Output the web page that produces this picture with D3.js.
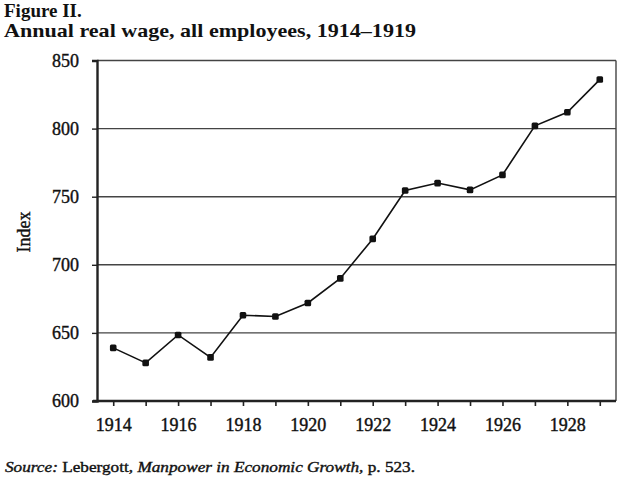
<!DOCTYPE html>
<html><head><meta charset="utf-8">
<script src="https://cdn.jsdelivr.net/npm/d3@7"></script>
<style>
html,body{margin:0;padding:0;background:#fff;}
svg{display:block;}
text{font-family:"Liberation Serif","DejaVu Serif",serif;fill:#111;}
.heavy{stroke:#111;stroke-width:0.4px;}
</style></head>
<body><svg id="chart" width="621" height="480"></svg>
<script>
const years = [1914,1915,1916,1917,1918,1919,1920,1921,1922,1923,1924,1925,1926,1927,1928,1929];
const wageIndex = [639,628,648.5,632,663,662,672,690,719,754.5,760,755,766,802,812,836];
const yTicks = [600,650,700,750,800,850];
const xLabelYears = [1914,1916,1918,1920,1922,1924,1926,1928];
const titleLines = ["Figure II.","Annual real wage, all employees, 1914\u20131919"];
const yLabel = "Index";

const svg = d3.select("#chart");
const m = {left:97, right:616, top:60.5, bottom:401};
const x = d3.scaleLinear().domain([1913.5,1929.5]).range([m.left,m.right]);
const y = d3.scaleLinear().domain([600,850]).range([m.bottom,m.top]);

// titles
svg.append("text").attr("x",4).attr("y",17).attr("font-size",19).attr("font-weight","bold").text(titleLines[0]);
svg.append("text").attr("x",4).attr("y",37).attr("font-size",19.5).attr("font-weight","bold")
  .attr("textLength",412).attr("lengthAdjust","spacingAndGlyphs").text(titleLines[1]);

// gridlines
svg.append("g").selectAll("line").data(yTicks.filter(d=>d>600)).join("line")
  .attr("x1",m.left).attr("x2",m.right).attr("y1",d=>y(d)).attr("y2",d=>y(d))
  .attr("stroke","#444").attr("stroke-width",1.4);

// right frame
svg.append("line").attr("x1",m.right).attr("x2",m.right).attr("y1",m.top).attr("y2",m.bottom)
  .attr("stroke","#444").attr("stroke-width",1.4);

// y axis
const yAxis = d3.axisLeft(y).tickValues(yTicks).tickSize(5).tickPadding(13).tickFormat(d3.format("d"));
const gy = svg.append("g").attr("transform",`translate(${m.left},0)`).call(yAxis);
gy.select(".domain").attr("stroke","#222").attr("stroke-width",2.4);
gy.selectAll(".tick line").attr("stroke","#222").attr("stroke-width",1.4);
gy.selectAll(".tick text").attr("font-size",18).attr("font-family","Liberation Serif, serif").attr("fill","#111").attr("class","heavy");

// x axis
const xAxis = d3.axisBottom(x).tickValues(years).tickSize(5).tickPadding(12)
  .tickFormat(d=>xLabelYears.includes(d)?String(d):"");
const gx = svg.append("g").attr("transform",`translate(0,${m.bottom})`).call(xAxis);
gx.select(".domain").attr("stroke","#222").attr("stroke-width",2.4).attr("d",`M${m.left-4},0H${m.right}`);
gx.selectAll(".tick line").attr("stroke","#222").attr("stroke-width",1.6);
gx.selectAll(".tick text").attr("font-size",18).attr("font-family","Liberation Serif, serif").attr("fill","#111").attr("class","heavy");

// y label
svg.append("text").attr("transform","translate(30,232) rotate(-90)").attr("text-anchor","middle")
  .attr("font-size",18).attr("class","heavy").text(yLabel);

// line
const data = years.map((yr,i)=>({yr,v:wageIndex[i]}));
svg.append("path").datum(data)
  .attr("d",d3.line().x(d=>x(d.yr)).y(d=>y(d.v)))
  .attr("fill","none").attr("stroke","#111").attr("stroke-width",1.6);
svg.append("g").selectAll("rect").data(data).join("rect")
  .attr("x",d=>x(d.yr)-3.3).attr("y",d=>y(d.v)-3.3).attr("width",6.6).attr("height",6.6)
  .attr("rx",1.5).attr("fill","#111");

// source
const src = svg.append("text").attr("x",5).attr("y",472).attr("font-size",15.5).attr("class","heavy")
  .attr("textLength",410).attr("lengthAdjust","spacingAndGlyphs");
src.append("tspan").attr("font-style","italic").text("Source:");
src.append("tspan").text(" Lebergott, ");
src.append("tspan").attr("font-style","italic").text("Manpower in Economic Growth");
src.append("tspan").text(", p. 523.");
</script></body></html>
